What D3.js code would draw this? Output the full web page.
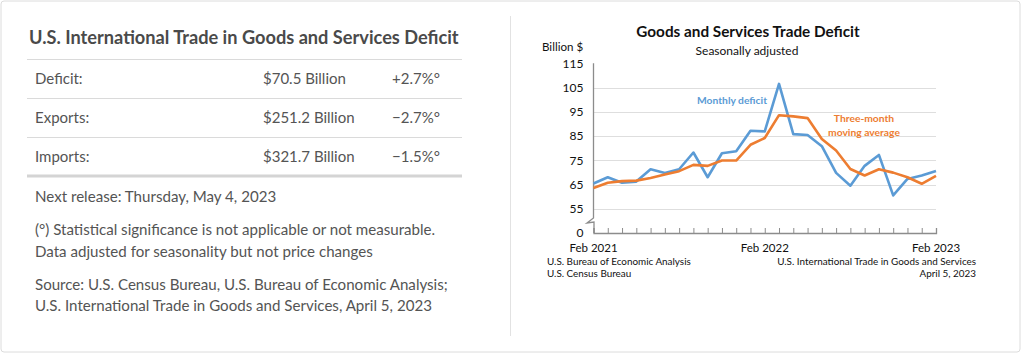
<!DOCTYPE html>
<html>
<head>
<meta charset="utf-8">
<script src="https://cdn.jsdelivr.net/npm/d3@7"></script>
<style>
  body { margin: 0; background: #fff; }
  svg { display: block; font-family: Lato, sans-serif; }
</style>
</head>
<body>
<div id="main"></div>
<script>
// data
var months = ["Feb 2021","Mar 2021","Apr 2021","May 2021","Jun 2021","Jul 2021","Aug 2021","Sep 2021","Oct 2021","Nov 2021","Dec 2021","Jan 2022",
              "Feb 2022","Mar 2022","Apr 2022","May 2022","Jun 2022","Jul 2022","Aug 2022","Sep 2022","Oct 2022","Nov 2022","Dec 2022","Jan 2023","Feb 2023"];
var monthly = [65.4, 68.0, 65.7, 66.2, 71.3, 69.7, 71.3, 78.2, 68.0, 77.9, 78.7, 87.2,
               86.9, 106.5, 85.8, 85.4, 80.8, 69.8, 64.5, 72.7, 77.2, 60.5, 67.3, 68.7, 70.6];
var movingAvg = [63.6, 65.7, 66.4, 66.6, 67.7, 69.1, 70.5, 73.1, 72.7, 74.9, 74.9, 81.4,
                 84.2, 93.6, 93.1, 92.4, 83.8, 79.0, 71.4, 68.7, 71.3, 69.9, 68.0, 65.3, 68.6];
var yTicks = [45, 55, 65, 75, 85, 95, 105, 115];   // 45 stands in for the broken "0"
var xLabels = ["Feb 2021", "Feb 2022", "Feb 2023"];

var rowLabels = ["Deficit:", "Exports:", "Imports:"];
var rowValues = ["$70.5 Billion", "$251.2 Billion", "$321.7 Billion"];
var rowChanges = ["+2.7%°", "\u22122.7%°", "\u22121.5%°"];

width = 1021;
height = 353;
var plot_box = {left: 593.5, right: 936, top: 63.3, bottom: 233};

var svg = d3.select("#main").append("svg")
    .attr("width", width)
    .attr("height", height);

// outer card and divider
svg.append("rect")
    .attr("x", 1).attr("y", 1).attr("width", width - 2).attr("height", height - 2)
    .attr("rx", 3).attr("fill", "#fff").attr("stroke", "#dcdcdc");
svg.append("line")
    .attr("x1", 510.5).attr("x2", 510.5).attr("y1", 16).attr("y2", 336)
    .attr("stroke", "#e2e2e2");

// ---- left panel ----
var txt = "#545454";
svg.append("text").attr("x", 29).attr("y", 44)
    .attr("font-size", 18.2).attr("font-weight", "bold").attr("fill", "#4a4a4a")
    .text("U.S. International Trade in Goods and Services Deficit");

var rowLines = [59.5, 98.5, 137.5];
rowLines.forEach(function(y) {
    svg.append("line").attr("x1", 27).attr("x2", 462).attr("y1", y).attr("y2", y)
        .attr("stroke", "#dadada");
});
svg.append("line").attr("x1", 27).attr("x2", 462).attr("y1", 176).attr("y2", 176)
    .attr("stroke", "#d4d4d4").attr("stroke-width", 3);

var rowY = d3.scaleBand().domain(rowLabels).range([59.5, 176.5]);
svg.selectAll(".rowlab").data(rowLabels).enter().append("text")
    .attr("x", 35).attr("y", d => rowY(d) + rowY.bandwidth() / 2 + 5)
    .attr("font-size", 15).attr("fill", txt).text(d => d);
svg.selectAll(".rowval").data(rowValues).enter().append("text")
    .attr("x", 263).attr("y", (d, i) => rowY(rowLabels[i]) + rowY.bandwidth() / 2 + 5)
    .attr("font-size", 15).attr("fill", txt).text(d => d);
svg.selectAll(".rowchg").data(rowChanges).enter().append("text")
    .attr("x", 392).attr("y", (d, i) => rowY(rowLabels[i]) + rowY.bandwidth() / 2 + 5)
    .attr("font-size", 15).attr("fill", txt).text(d => d);

var notes = [
    ["Next release: Thursday, May 4, 2023", 202],
    ["(°) Statistical significance is not applicable or not measurable.", 235],
    ["Data adjusted for seasonality but not price changes", 257],
    ["Source: U.S. Census Bureau, U.S. Bureau of Economic Analysis;", 290],
    ["U.S. International Trade in Goods and Services, April 5, 2023", 311]
];
notes.forEach(function(n) {
    svg.append("text").attr("x", 35).attr("y", n[1])
        .attr("font-size", 15.1).attr("fill", txt).text(n[0]);
});

// ---- chart ----
var xScale = d3.scalePoint().domain(months).range([plot_box.left, plot_box.right]);
var yScale = d3.scaleLinear().domain([45, 115]).range([plot_box.bottom, plot_box.top]);

var chart = svg.append("g");

chart.append("text").attr("x", 748).attr("y", 37).attr("text-anchor", "middle")
    .attr("font-size", 15.3).attr("font-weight", "bold").attr("fill", "#111")
    .text("Goods and Services Trade Deficit");
chart.append("text").attr("x", 747).attr("y", 54.5).attr("text-anchor", "middle")
    .attr("font-size", 12).attr("fill", "#111").text("Seasonally adjusted");
chart.append("text").attr("x", 542).attr("y", 51)
    .attr("font-size", 11.6).attr("fill", "#111").text("Billion $");

// gridlines
chart.selectAll(".grid").data(yTicks.filter(d => d > 45 && d < 115)).enter().append("line")
    .attr("x1", plot_box.left).attr("x2", plot_box.right)
    .attr("y1", d => Math.round(yScale(d)) + 0.5).attr("y2", d => Math.round(yScale(d)) + 0.5)
    .attr("stroke", "#dedede");

// y axis
var yAxis = d3.axisLeft(yScale).tickValues(yTicks).tickSize(0).tickPadding(10)
    .tickFormat(d => d == 45 ? "0" : d);
var yG = chart.append("g").attr("transform", "translate(" + plot_box.left + ",0)").call(yAxis);
yG.select(".domain").remove();
yG.selectAll("text").attr("font-family", "Lato, sans-serif").attr("font-size", 12).attr("fill", "#111");

chart.append("path")
    .attr("d", "M" + plot_box.left + "," + plot_box.top + "V218 L587,223 L594,222 V" + plot_box.bottom)
    .attr("fill", "none").attr("stroke", "#8c8c8c").attr("stroke-width", 1.3);

// x axis, ticks pointing up
var xAxis = d3.axisBottom(xScale).tickSize(-5).tickFormat("");
var xG = chart.append("g").attr("transform", "translate(0," + plot_box.bottom + ")").call(xAxis);
xG.select(".domain").attr("stroke", "#8c8c8c").attr("stroke-width", 1.3);
xG.selectAll(".tick line").attr("stroke", "#8c8c8c");

chart.selectAll(".xlab").data(xLabels).enter().append("text")
    .attr("x", d => xScale(d)).attr("y", 252).attr("text-anchor", "middle")
    .attr("font-size", 11.5).attr("fill", "#111").text(d => d);

var line = d3.line().x((d, i) => xScale(months[i])).y(d => yScale(d));
chart.append("path").datum(monthly).attr("d", line)
    .attr("fill", "none").attr("stroke", "#5b9bd5").attr("stroke-width", 2.6)
    .attr("stroke-linejoin", "round");
chart.append("path").datum(movingAvg).attr("d", line)
    .attr("fill", "none").attr("stroke", "#ed7d31").attr("stroke-width", 2.6)
    .attr("stroke-linejoin", "round");

chart.append("text").attr("x", 732).attr("y", 104).attr("text-anchor", "middle")
    .attr("font-size", 10.3).attr("font-weight", "bold").attr("fill", "#5b9bd5").text("Monthly deficit");
chart.append("text").attr("x", 864).attr("y", 122).attr("text-anchor", "middle")
    .attr("font-size", 10.3).attr("font-weight", "bold").attr("fill", "#ed7d31").text("Three-month");
chart.append("text").attr("x", 864).attr("y", 136).attr("text-anchor", "middle")
    .attr("font-size", 10.3).attr("font-weight", "bold").attr("fill", "#ed7d31").text("moving average");

// sources
chart.append("text").attr("x", 547).attr("y", 264.5).attr("font-size", 9.9).attr("fill", "#111")
    .text("U.S. Bureau of Economic Analysis");
chart.append("text").attr("x", 547).attr("y", 277).attr("font-size", 9.9).attr("fill", "#111")
    .text("U.S. Census Bureau");
chart.append("text").attr("x", 976).attr("y", 264.5).attr("text-anchor", "end").attr("font-size", 9.9).attr("fill", "#111")
    .text("U.S. International Trade in Goods and Services");
chart.append("text").attr("x", 976).attr("y", 277).attr("text-anchor", "end").attr("font-size", 9.9).attr("fill", "#111")
    .text("April 5, 2023");
</script>
</body>
</html>
